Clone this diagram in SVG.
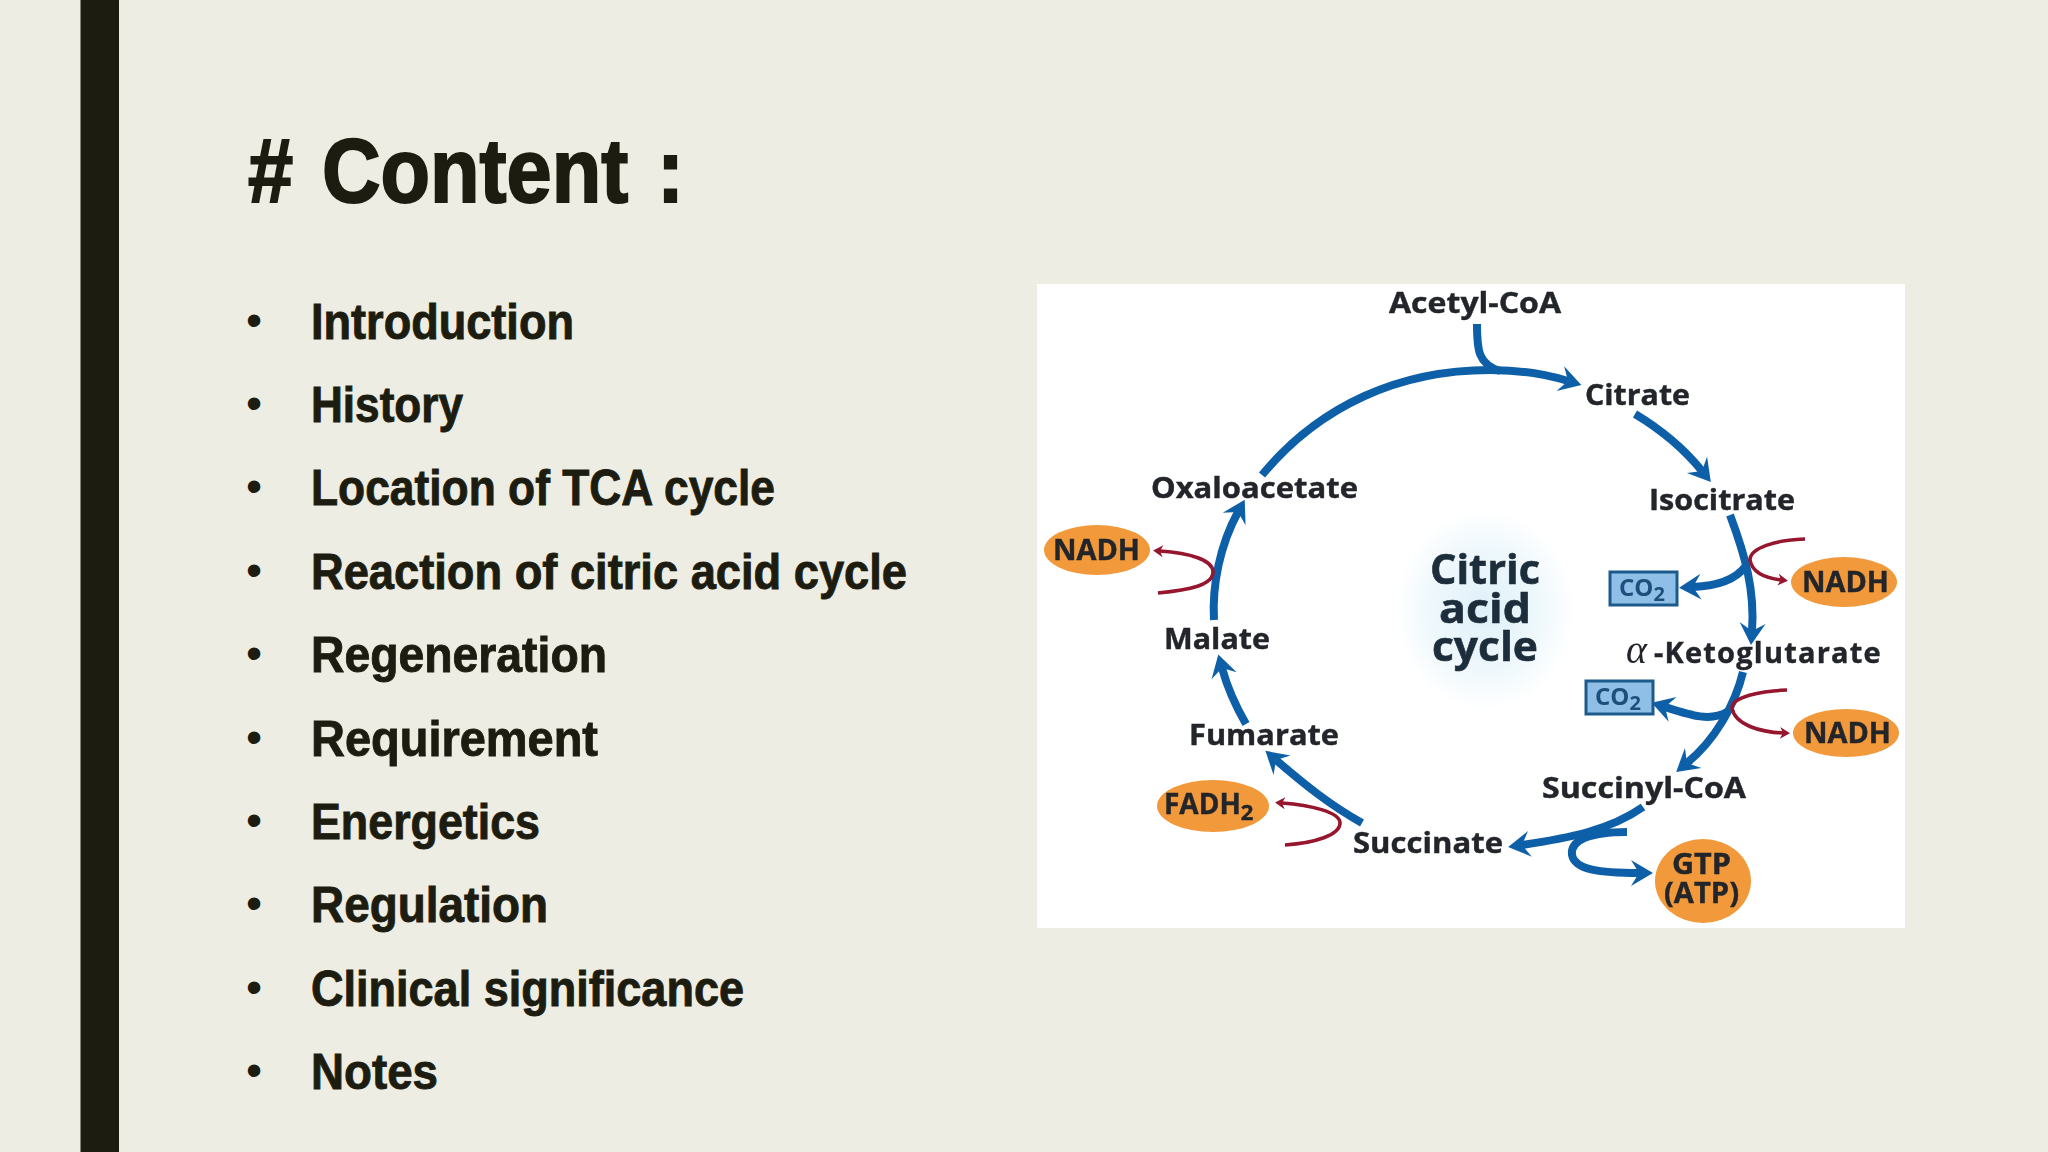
<svg xmlns="http://www.w3.org/2000/svg" width="2048" height="1152" viewBox="0 0 2048 1152">
<style>
.title{font-family:"Liberation Sans",Arial,sans-serif;font-weight:700;font-size:90px;fill:#1c1c10;stroke:#1c1c10;stroke-width:2px;word-spacing:7px}
.li{font-family:"Liberation Sans",Arial,sans-serif;font-weight:700;font-size:50px;fill:#1c1c10;stroke:#1c1c10;stroke-width:.9px}
.bu{font-family:"Liberation Sans",Arial,sans-serif;font-size:46px;fill:#1c1c10}
.lab{font-family:"Open Sans","Liberation Sans",sans-serif;font-weight:700;font-size:28px;fill:#22252a;stroke:#22252a;stroke-width:.4px}
.big{font-family:"Open Sans","Liberation Sans",sans-serif;font-weight:700;font-size:41px;fill:#1f2d3a;stroke:#1f2d3a;stroke-width:.6px;text-anchor:middle}
.co{font-family:"Open Sans","Liberation Sans",sans-serif;font-weight:700;font-size:24px;fill:#1d4f7c}
.sub{font-size:20px}
.or{fill:#f1993a}
.box{fill:#8fbfe6;stroke:#1c5a8c;stroke-width:3}
.b{fill:none;stroke:#1160a8;stroke-width:8}
.r{fill:none;stroke:#96142f;stroke-width:3.6}
</style>
<defs>
<marker id="ab" markerUnits="userSpaceOnUse" markerWidth="34" markerHeight="34" viewBox="-12 -17 34 34" refX="0" refY="0" orient="auto"><path d="M14 0L-8 -13L0 0L-8 13Z" fill="#1160a8"/></marker>
<marker id="ar" markerUnits="userSpaceOnUse" markerWidth="16" markerHeight="16" viewBox="-4 -8 16 16" refX="0" refY="0" orient="auto"><path d="M7 0L-3 -6L0 0L-3 6Z" fill="#96142f"/></marker>
<radialGradient id="glow"><stop offset="0" stop-color="#dff0f9"/><stop offset=".6" stop-color="#eef8fc"/><stop offset="1" stop-color="#fff"/></radialGradient>
<filter id="soft" x="-2%" y="-2%" width="104%" height="104%"><feGaussianBlur stdDeviation="0.7"/></filter>
</defs>
<rect width="2048" height="1152" fill="#ededE3"/>
<rect x="80.5" y="0" width="38.5" height="1152" fill="#1c1c10"/>
<text class="title" x="248" y="202" textLength="436" lengthAdjust="spacingAndGlyphs"># Content :</text>
<g id="list">
<text class="bu" x="246" y="336">•</text><text class="li" x="311" y="339" textLength="263" lengthAdjust="spacingAndGlyphs">Introduction</text>
<text class="bu" x="246" y="419">•</text><text class="li" x="311" y="422" textLength="152" lengthAdjust="spacingAndGlyphs">History</text>
<text class="bu" x="246" y="502">•</text><text class="li" x="311" y="505" textLength="464" lengthAdjust="spacingAndGlyphs">Location of TCA cycle</text>
<text class="bu" x="246" y="586">•</text><text class="li" x="311" y="589" textLength="596" lengthAdjust="spacingAndGlyphs">Reaction of citric acid cycle</text>
<text class="bu" x="246" y="669">•</text><text class="li" x="311" y="672" textLength="296" lengthAdjust="spacingAndGlyphs">Regeneration</text>
<text class="bu" x="246" y="753">•</text><text class="li" x="311" y="756" textLength="287" lengthAdjust="spacingAndGlyphs">Requirement</text>
<text class="bu" x="246" y="836">•</text><text class="li" x="311" y="839" textLength="229" lengthAdjust="spacingAndGlyphs">Energetics</text>
<text class="bu" x="246" y="919">•</text><text class="li" x="311" y="922" textLength="237" lengthAdjust="spacingAndGlyphs">Regulation</text>
<text class="bu" x="246" y="1003">•</text><text class="li" x="311" y="1006" textLength="433" lengthAdjust="spacingAndGlyphs">Clinical significance</text>
<text class="bu" x="246" y="1086">•</text><text class="li" x="311" y="1089" textLength="127" lengthAdjust="spacingAndGlyphs">Notes</text>
</g>
<g id="cycle-figure" filter="url(#soft)">
<rect x="1037" y="284" width="868" height="644" fill="#fff"/>
<ellipse cx="1485" cy="610" rx="90" ry="100" fill="url(#glow)"/>
<g id="connectors">
<path class="b" marker-end="url(#ab)" d="M1262 475C1320 405 1400 370 1490 370C1520 370 1545 374 1568 381"/>
<path class="b" d="M1477 324C1477 350 1478 364 1500 371"/>
<path class="b" marker-end="url(#ab)" d="M1635 414C1665 432 1685 450 1702 471"/>
<path class="b" marker-end="url(#ab)" d="M1730 515C1745 555 1755 590 1752 631"/>
<path class="b" marker-end="url(#ab)" d="M1745 567C1735 580 1715 586 1693 587"/>
<path class="b" marker-end="url(#ab)" d="M1743 672C1735 705 1715 740 1687 763"/>
<path class="b" marker-end="url(#ab)" d="M1727 712C1710 722 1690 715 1665 707"/>
<path class="b" marker-end="url(#ab)" d="M1643 807C1610 830 1570 838 1522 845"/>
<path class="b" marker-end="url(#ab)" d="M1627 832C1590 832 1570 840 1572 855C1575 870 1600 873 1639 873"/>
<path class="b" marker-end="url(#ab)" d="M1362 823C1330 805 1305 785 1276 760"/>
<path class="b" marker-end="url(#ab)" d="M1246 724C1235 705 1228 690 1222 668"/>
<path class="b" marker-end="url(#ab)" d="M1214 620C1212 585 1220 545 1238 512"/>
<path class="r" marker-end="url(#ar)" d="M1158 593C1190 590 1213 585 1213 572C1213 560 1190 553 1160 551"/>
<path class="r" marker-end="url(#ar)" d="M1805 539C1775 540 1750 548 1750 560C1752 572 1765 578 1781 580"/>
<path class="r" marker-end="url(#ar)" d="M1787 690C1760 691 1732 697 1732 708C1735 725 1760 732 1783 733"/>
<path class="r" marker-end="url(#ar)" d="M1285 845C1315 843 1340 835 1340 823C1340 812 1310 805 1282 803"/>
</g>
<g id="acetyl-coa"><text class="lab" x="1389" y="313" textLength="172" lengthAdjust="spacingAndGlyphs">Acetyl-CoA</text></g>
<g id="citrate"><text class="lab" x="1585" y="405" textLength="105" lengthAdjust="spacingAndGlyphs">Citrate</text></g>
<g id="isocitrate"><text class="lab" x="1649" y="510" textLength="146" lengthAdjust="spacingAndGlyphs">Isocitrate</text></g>
<g id="ketoglutarate"><text class="lab" y="663" letter-spacing="1.2" font-size="29"><tspan x="1626" font-family="'Liberation Serif',serif" font-style="italic" font-weight="400" font-size="40" stroke-width="0">α</tspan><tspan x="1654" style="font-size:29px">-Ketoglutarate</tspan></text></g>
<g id="succinyl-coa"><text class="lab" x="1542" y="798" textLength="204" lengthAdjust="spacingAndGlyphs">Succinyl-CoA</text></g>
<g id="succinate"><text class="lab" x="1353" y="853" textLength="150" lengthAdjust="spacingAndGlyphs">Succinate</text></g>
<g id="fumarate"><text class="lab" x="1189" y="745" textLength="150" lengthAdjust="spacingAndGlyphs">Fumarate</text></g>
<g id="malate"><text class="lab" x="1164" y="649" textLength="106" lengthAdjust="spacingAndGlyphs">Malate</text></g>
<g id="oxaloacetate"><text class="lab" x="1151" y="498" textLength="207" lengthAdjust="spacingAndGlyphs">Oxaloacetate</text></g>
<g id="center"><text class="big" x="1485" y="584" textLength="110" lengthAdjust="spacingAndGlyphs">Citric</text><text class="big" x="1485" y="623" textLength="92" lengthAdjust="spacingAndGlyphs">acid</text><text class="big" x="1485" y="661" textLength="106" lengthAdjust="spacingAndGlyphs">cycle</text></g>
<g id="nadh-left"><ellipse class="or" cx="1097" cy="550" rx="53" ry="25"/><text class="lab" x="1053" y="560" textLength="87" lengthAdjust="spacingAndGlyphs">NADH</text></g>
<g id="nadh-1"><ellipse class="or" cx="1844" cy="582" rx="53" ry="25"/><text class="lab" x="1802" y="592" textLength="87" lengthAdjust="spacingAndGlyphs">NADH</text></g>
<g id="nadh-2"><ellipse class="or" cx="1846" cy="733" rx="53" ry="24"/><text class="lab" x="1804" y="743" textLength="87" lengthAdjust="spacingAndGlyphs">NADH</text></g>
<g id="co2-1"><rect class="box" x="1610" y="572" width="67" height="33"/><text class="co" x="1619" y="596">CO<tspan class="sub" dy="5">2</tspan></text></g>
<g id="co2-2"><rect class="box" x="1586" y="681" width="67" height="33"/><text class="co" x="1595" y="705">CO<tspan class="sub" dy="5">2</tspan></text></g>
<g id="fadh2"><ellipse class="or" cx="1213" cy="806" rx="56" ry="26"/><text class="lab" x="1164" y="814">FADH<tspan style="font-size:22px" dy="6">2</tspan></text></g>
<g id="gtp"><ellipse class="or" cx="1703" cy="881" rx="48" ry="42"/><text class="lab" x="1672" y="874" textLength="59" lengthAdjust="spacingAndGlyphs">GTP</text><text class="lab" x="1664" y="903" textLength="75" lengthAdjust="spacingAndGlyphs">(ATP)</text></g>
</g>
</svg>
